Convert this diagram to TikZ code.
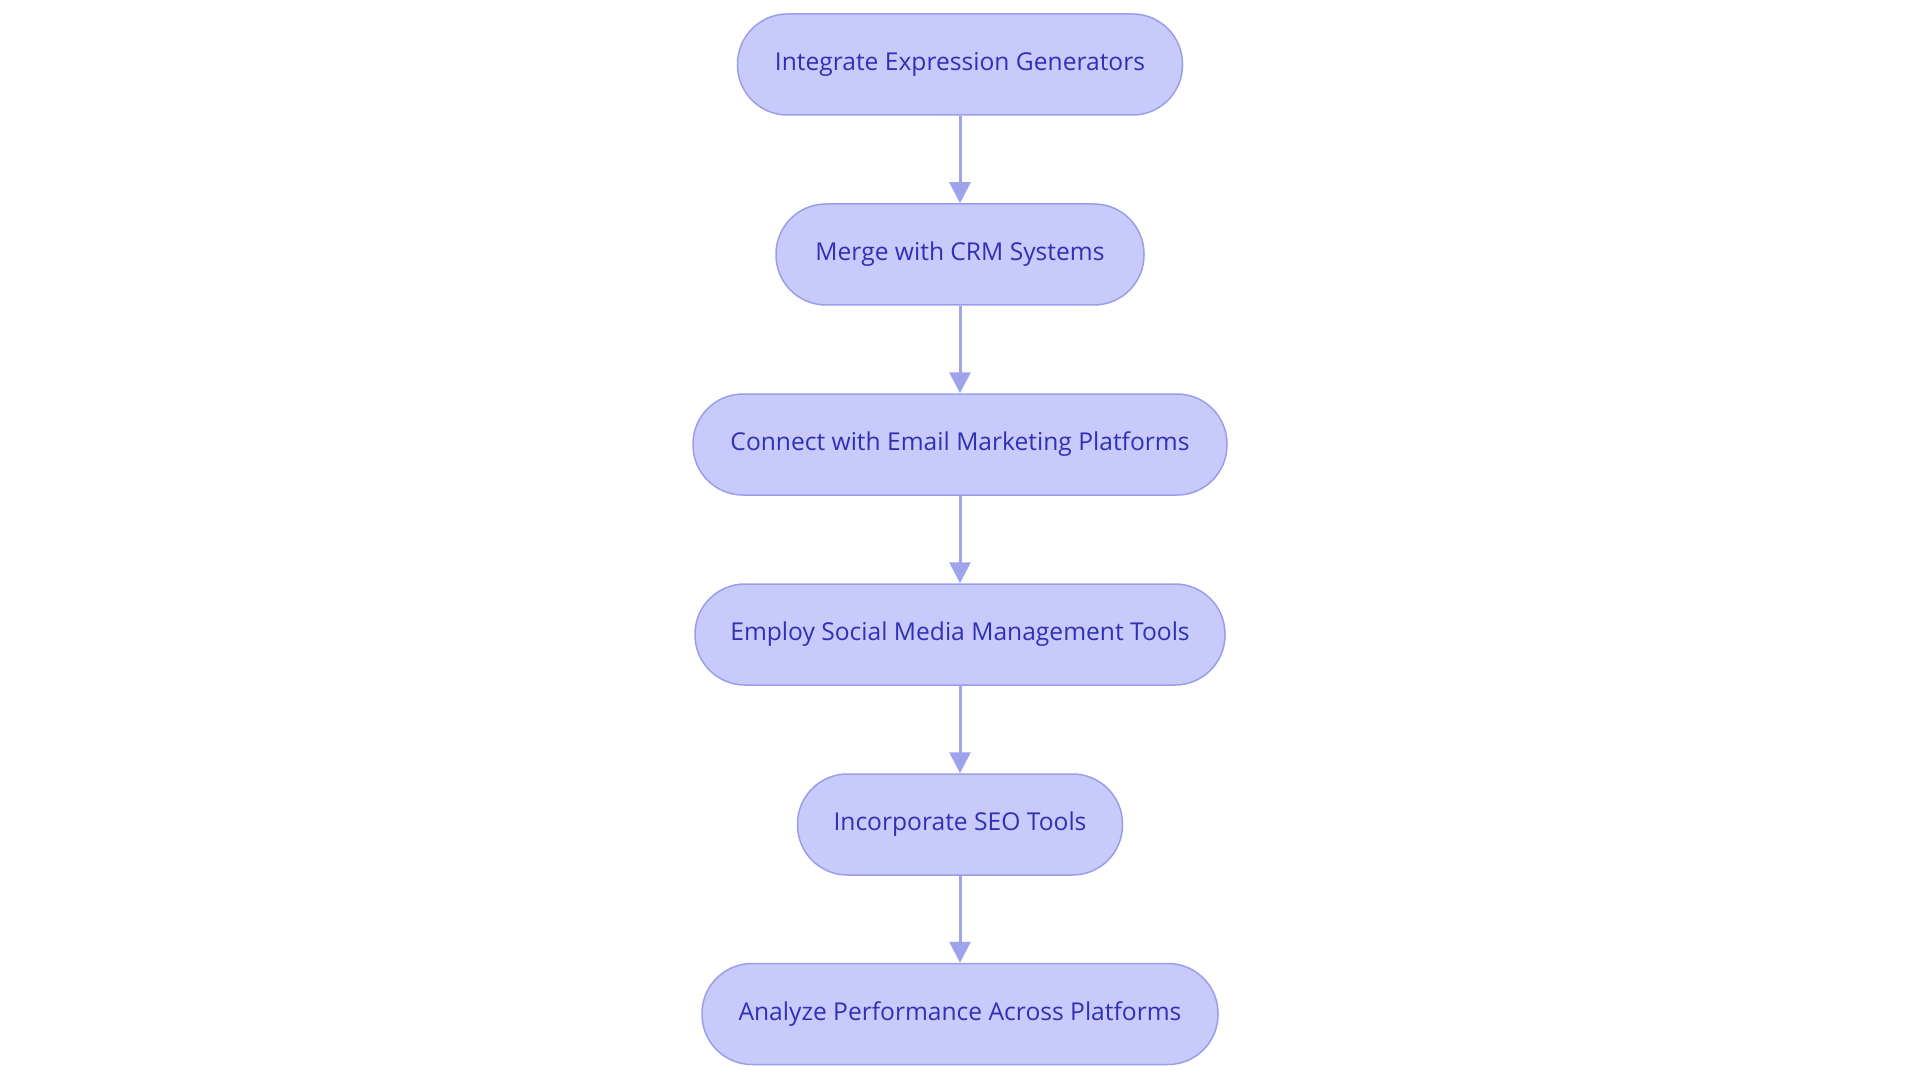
\documentclass[tikz,border=0pt]{standalone}
\usepackage{fontspec}
\setmainfont{Open Sans}
\usetikzlibrary{arrows.meta}
\definecolor{boxfill}{HTML}{C8CAFC}
\definecolor{boxline}{HTML}{9A9EEA}
\definecolor{boxtext}{HTML}{3030B4}
\definecolor{arrowc}{HTML}{9FA3EC}
\tikzset{
  stepbox/.style={draw=boxline, line width=1.5pt, fill=boxfill, rounded corners=50pt,
    minimum height=101pt, inner sep=0pt, text=boxtext,
    font=\fontsize{24.6}{30}\selectfont},
  flowarrow/.style={draw=arrowc, line width=3pt, -{Triangle[length=21pt,width=21pt]}}
}
\begin{document}
\begin{tikzpicture}[x=1pt,y=-1pt]
\useasboundingbox (0,0) rectangle (1920,1083);
\node[stepbox, minimum width=445pt] (n1) at (960,64.5) {Integrate Expression Generators};
\node[stepbox, minimum width=368pt] (n2) at (960,254.5) {Merge with CRM Systems};
\node[stepbox, minimum width=534pt] (n3) at (960,444.5) {Connect with Email Marketing Platforms};
\node[stepbox, minimum width=530pt] (n4) at (960,634.5) {Employ Social Media Management Tools};
\node[stepbox, minimum width=325pt] (n5) at (960,824.5) {Incorporate SEO Tools};
\node[stepbox, minimum width=516pt] (n6) at (960,1014) {Analyze Performance Across Platforms};
\draw[flowarrow] (n1) -- (n2);
\draw[flowarrow] (n2) -- (n3);
\draw[flowarrow] (n3) -- (n4);
\draw[flowarrow] (n4) -- (n5);
\draw[flowarrow] (n5) -- (n6);
\end{tikzpicture}
\end{document}
